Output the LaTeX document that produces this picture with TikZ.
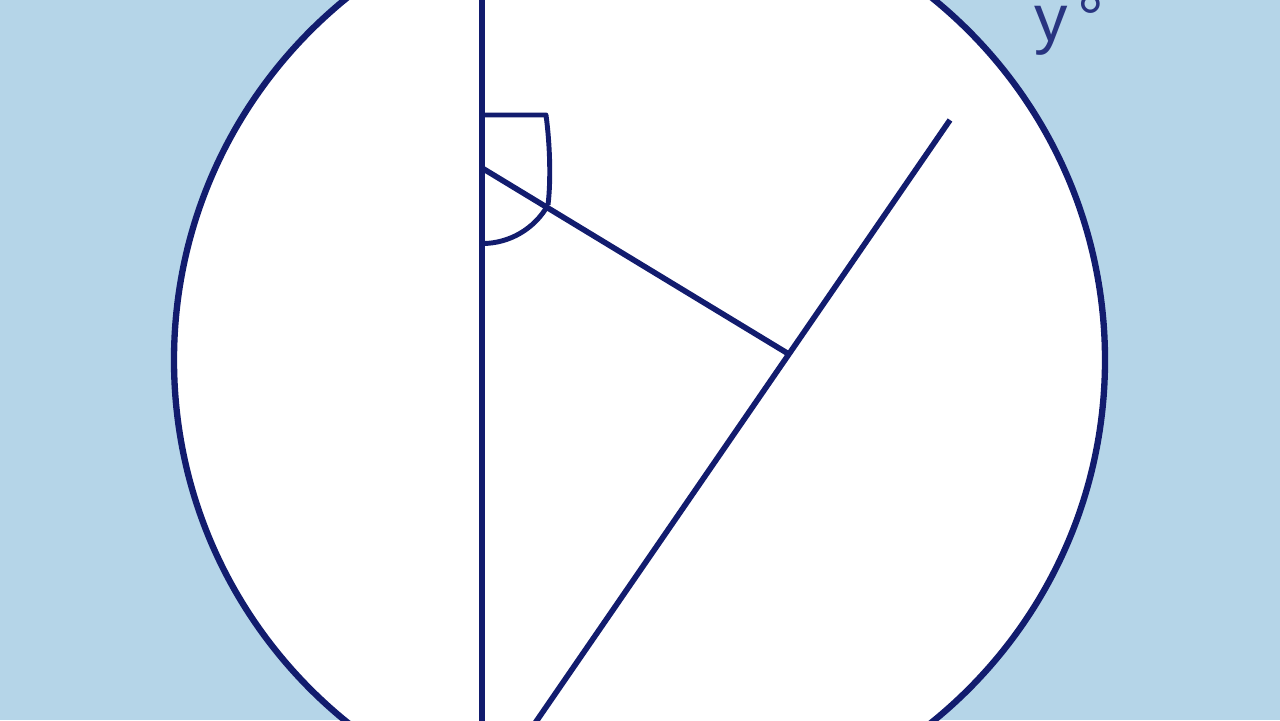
\documentclass[tikz,border=0pt]{standalone}
\usepackage{fontspec}
\setmainfont{Liberation Sans}
\usetikzlibrary{positioning}
\definecolor{skyback}{RGB}{181,213,232}
\definecolor{navyline}{RGB}{18,28,110}
\definecolor{navytext}{RGB}{40,52,128}

\begin{document}
\begin{tikzpicture}
    \clip (0,0) rectangle (25.6,14.4);
    \path[fill=skyback] (0,0) rectangle (25.6,14.4);

    %%circle
    \draw[navyline, line width=3.6pt, fill=white] (12.79,7.2) circle (9.31);

    \coordinate (top) at (9.64,15);
    \coordinate (bot) at (9.64,-1);
    \coordinate (v) at (9.64,11.04);
    \coordinate (p) at (15.74,7.34);
    \coordinate (t) at (19.0,12.0);
    \coordinate (b) at (10.40,-0.5);

    %%lines
    \draw[navyline, line width=3.2pt] (top) -- (bot);
    \draw[navyline, line width=3.2pt] (v) -- (p);
    \draw[navyline, line width=3.2pt] (t) -- (b);

    %%angle marks
    \coordinate (m1) at (9.64,12.1);
    \coordinate (m2) at (10.92,12.1);
    \coordinate (m3) at (10.96,10.3);
    \draw[navyline, line width=2.8pt, line join=round]
        (m1) -- (m2) .. controls (11.0,11.5) and (11.02,10.8) .. (m3);
    \draw[navyline, line width=2.8pt] (m3) arc (-29.3:-90:1.51);

    \node[navytext, font=\fontsize{38}{42}\selectfont, anchor=base west,
          inner sep=0pt] (ylab) at (20.68,13.56) {y\hspace{0.14em}°};
\end{tikzpicture}
\end{document}
